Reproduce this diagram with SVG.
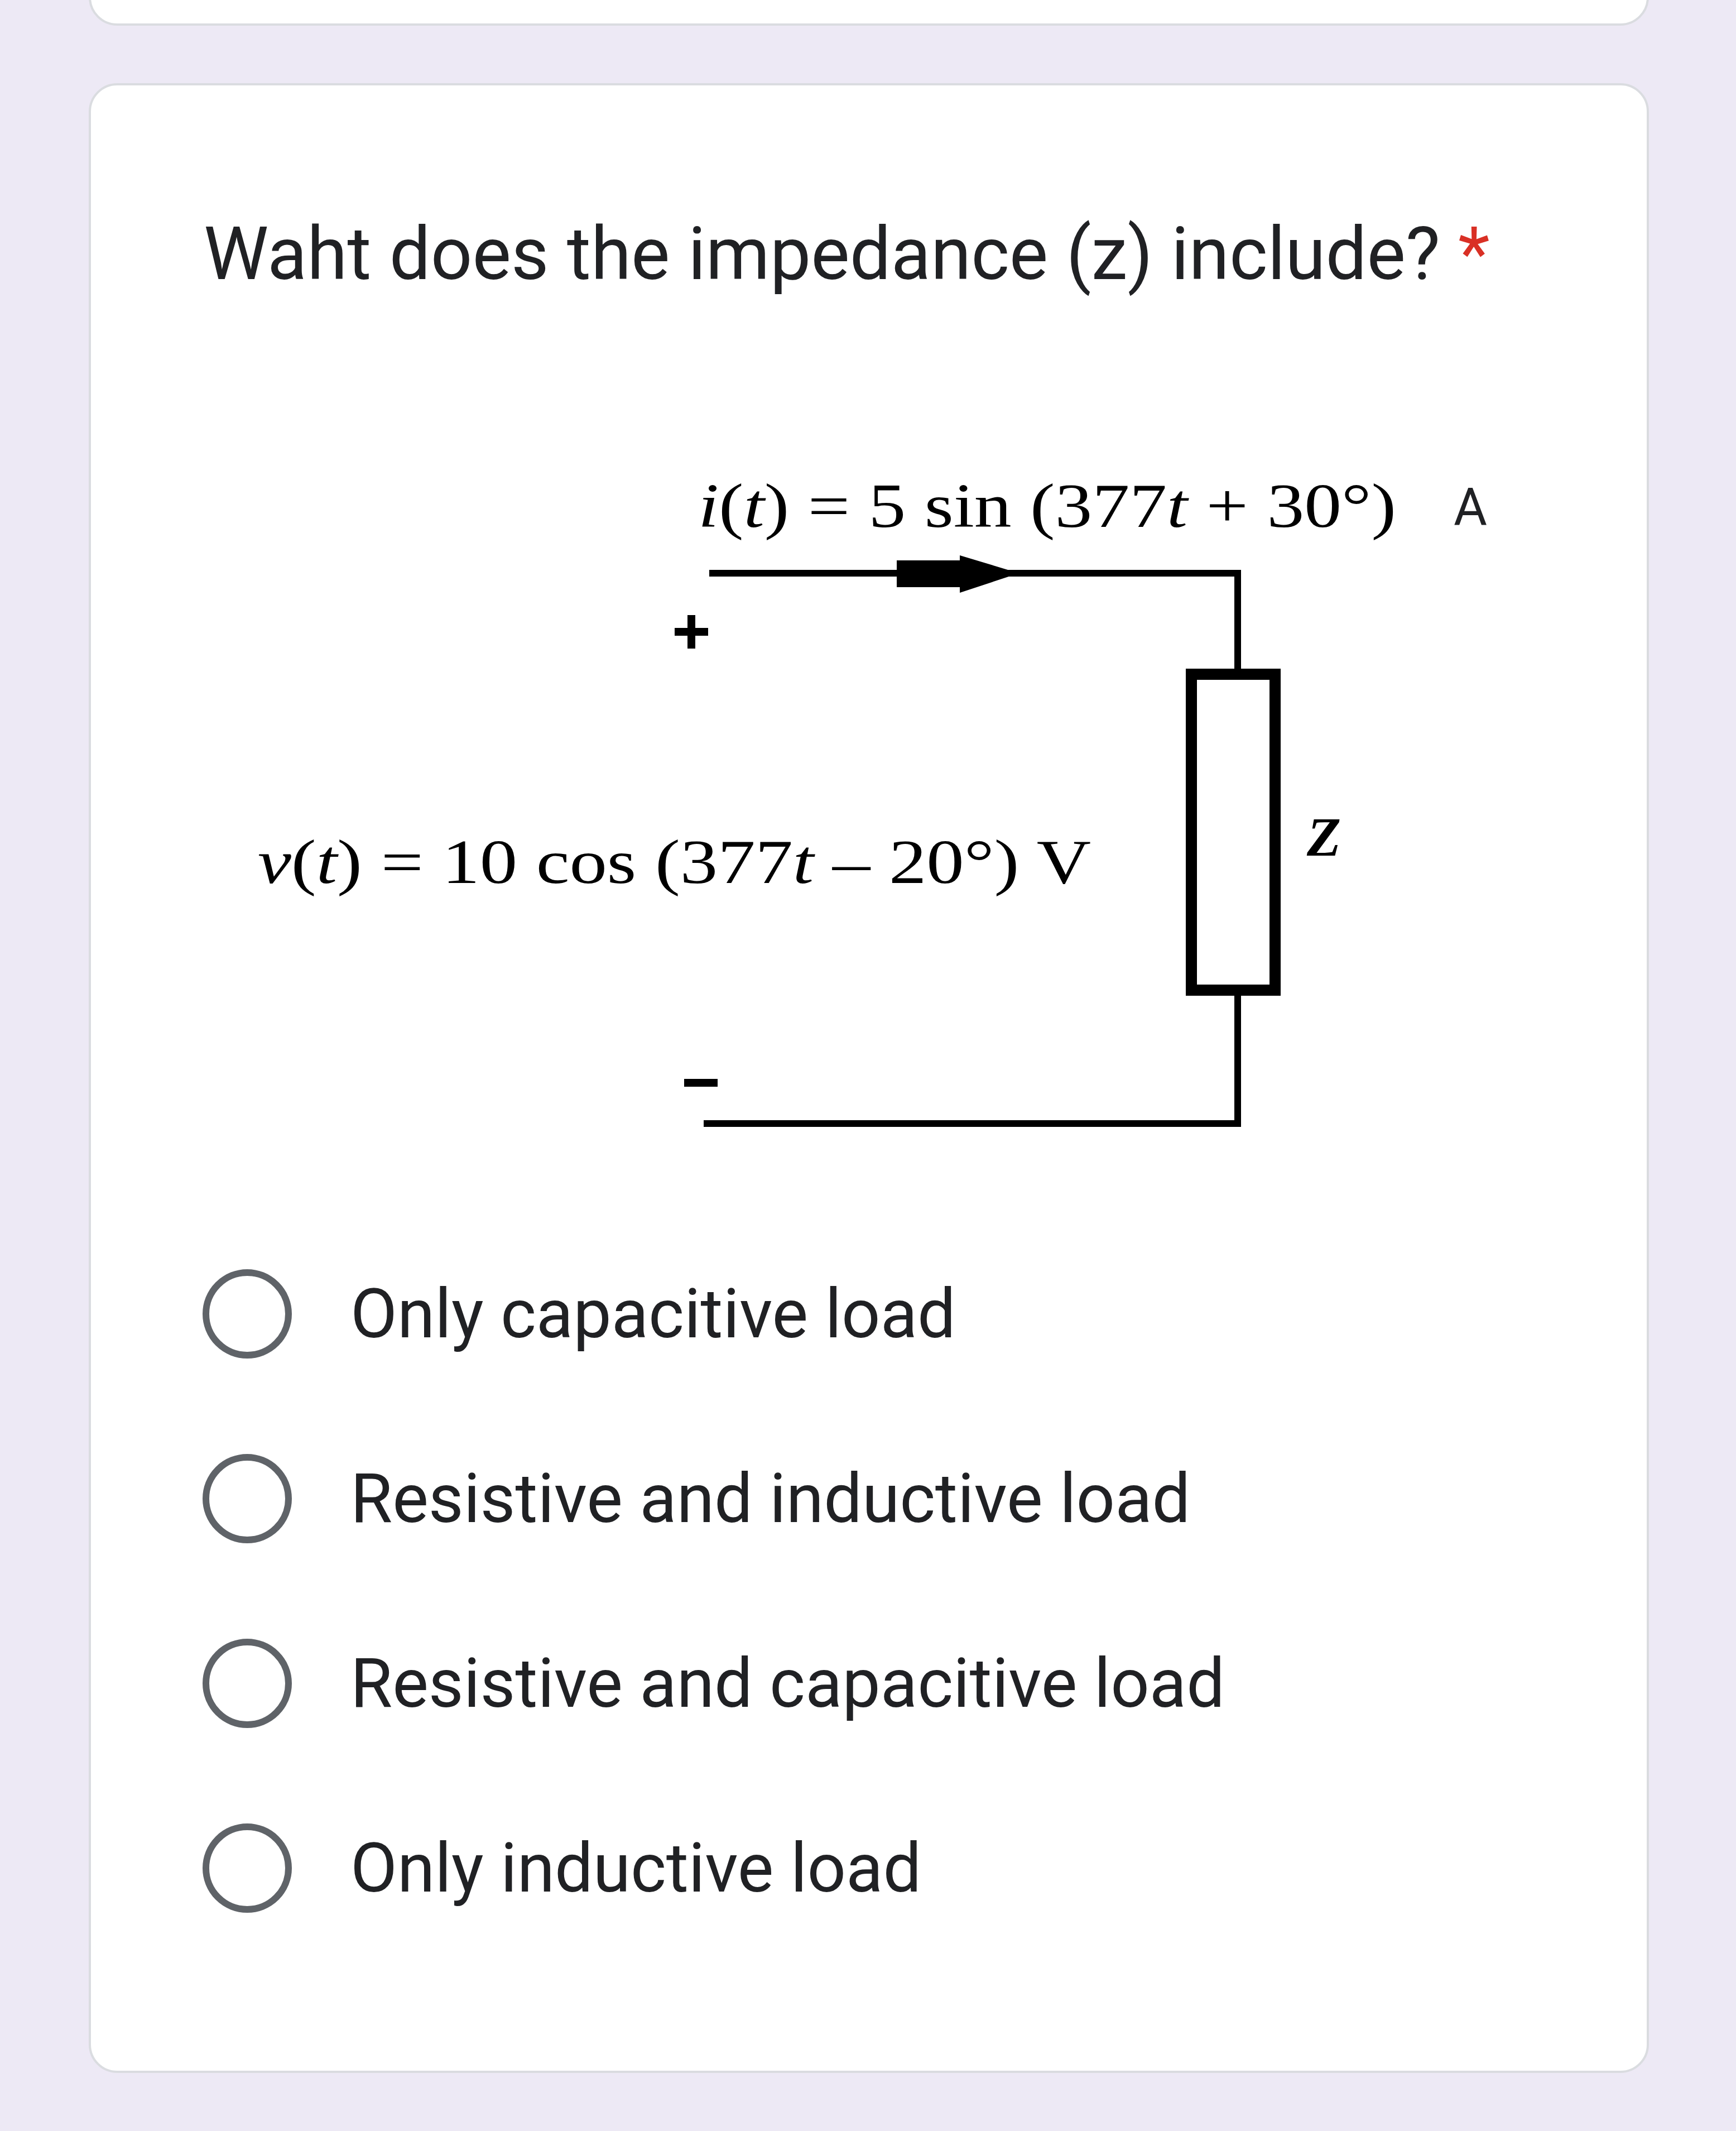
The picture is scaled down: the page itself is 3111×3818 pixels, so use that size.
<svg xmlns="http://www.w3.org/2000/svg" width="3111" height="3818" viewBox="0 0 3111 3818">
<style>
.card{fill:#fff;stroke:#dadce0;stroke-width:4}
.t{font-family:Roboto,"Liberation Sans",sans-serif;fill:#202124}
.m{font-family:"Liberation Serif",serif;fill:#000}
.w{stroke:#000;stroke-width:12;fill:none}
.r{fill:none;stroke:#5f6368;stroke-width:12}
</style>
<rect width="3111" height="3818" fill="#ede9f5"/>
<rect class="card" x="161" y="-100" width="2792" height="144" rx="49"/>
<g id="card"><rect class="card" x="161" y="151" width="2792" height="3561" rx="49"/></g>
<g id="title"><text class="t" x="365" y="500" font-size="131">Waht does the impedance (z) include? <tspan fill="#d93025">*</tspan></text></g>
<g id="circuit">
<g id="wires">
<path class="w" d="M1271 1027H2218V1205M2218 1777V2013H1261"/>
<rect x="2135" y="1208" width="150" height="566" fill="none" stroke="#000" stroke-width="20"/>
<path d="M1607 1004H1720V995L1826 1027L1720 1062V1052H1607Z" fill="#000"/>
<path d="M1239 1102V1162M1209 1132H1269" stroke="#000" stroke-width="14"/>
<path d="M1226 1940H1286" stroke="#000" stroke-width="14"/>
</g>
<text class="m" x="1251" y="944" font-size="112" textLength="1251" lengthAdjust="spacingAndGlyphs"><tspan font-style="italic">i</tspan>(<tspan font-style="italic">t</tspan>) = 5 sin (377<tspan font-style="italic">t</tspan> + 30°)</text>
<text class="t" x="2605" y="940" font-size="92" fill="#000">A</text>
<text class="m" x="462" y="1582" font-size="112" textLength="1493" lengthAdjust="spacingAndGlyphs"><tspan font-style="italic">v</tspan>(<tspan font-style="italic">t</tspan>) = 10 cos (377<tspan font-style="italic">t</tspan> – 20°) V</text>
<text class="m" x="2342" y="1533" font-size="100" font-style="italic" font-weight="bold">Z</text>
</g>
<g id="opt1"><circle class="r" cx="443" cy="2354" r="74"/><text class="t" x="628" y="2396" font-size="122">Only capacitive load</text></g>
<g id="opt2"><circle class="r" cx="443" cy="2685" r="74"/><text class="t" x="628" y="2727" font-size="122">Resistive and inductive load</text></g>
<g id="opt3"><circle class="r" cx="443" cy="3016" r="74"/><text class="t" x="628" y="3058" font-size="122">Resistive and capacitive load</text></g>
<g id="opt4"><circle class="r" cx="443" cy="3347" r="74"/><text class="t" x="628" y="3389" font-size="122">Only inductive load</text></g>
</svg>
